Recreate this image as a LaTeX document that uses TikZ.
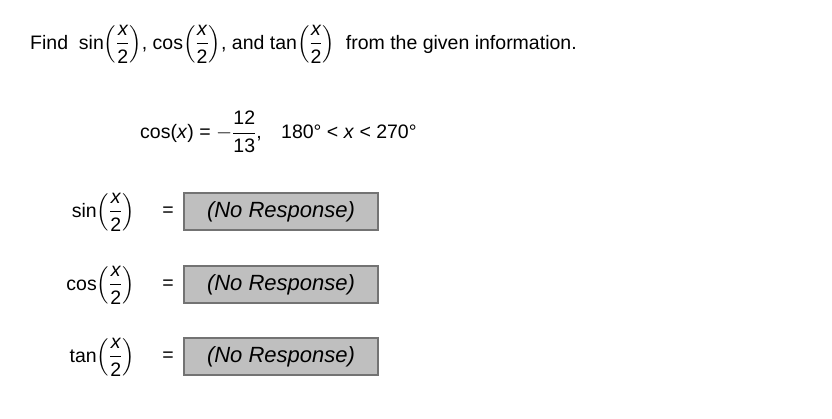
\documentclass[tikz,border=0pt]{standalone}
\usepackage{amsmath}
\usepackage{fontspec}
\setmainfont{Liberation Sans}
\newcommand{\hx}{\left(\dfrac{\text{\itshape x}}{\text{2}}\right)}
\begin{document}
\begin{tikzpicture}[x=1pt,y=-1pt,
  txt/.style={inner sep=0pt,font=\fontsize{19.5}{22}\selectfont},
  resp/.style={draw=black!55,line width=1.2pt,fill=black!25,minimum width=194pt,minimum height=37pt,inner sep=0pt,font=\fontsize{22}{24}\selectfont\itshape}]
\useasboundingbox (0,0) rectangle (832,418);
\node[txt,anchor=west] (q) at (30,44) {Find\ \ sin$\hx$, cos$\hx$, and tan$\hx$\ \ from the given information.};
\node[txt,anchor=west] (g) at (140,132) {cos(\textit{x}) = $-\dfrac{\text{12}}{\text{13}}$,\quad 180° < \textit{x} < 270°};
\node[txt,anchor=east] (s) at (135,212) {sin$\hx$};
\node[txt,anchor=east] (c) at (135,285) {cos$\hx$};
\node[txt,anchor=east] (t) at (135,357) {tan$\hx$};
\node[txt] (e1) at (168,212) {=};
\node[txt] (e2) at (168,285) {=};
\node[txt] (e3) at (168,357) {=};
\node[resp] (r1) at (281,211.5) {(No Response)};
\node[resp] (r2) at (281,284.5) {(No Response)};
\node[resp] (r3) at (281,356.5) {(No Response)};
\end{tikzpicture}
\end{document}
